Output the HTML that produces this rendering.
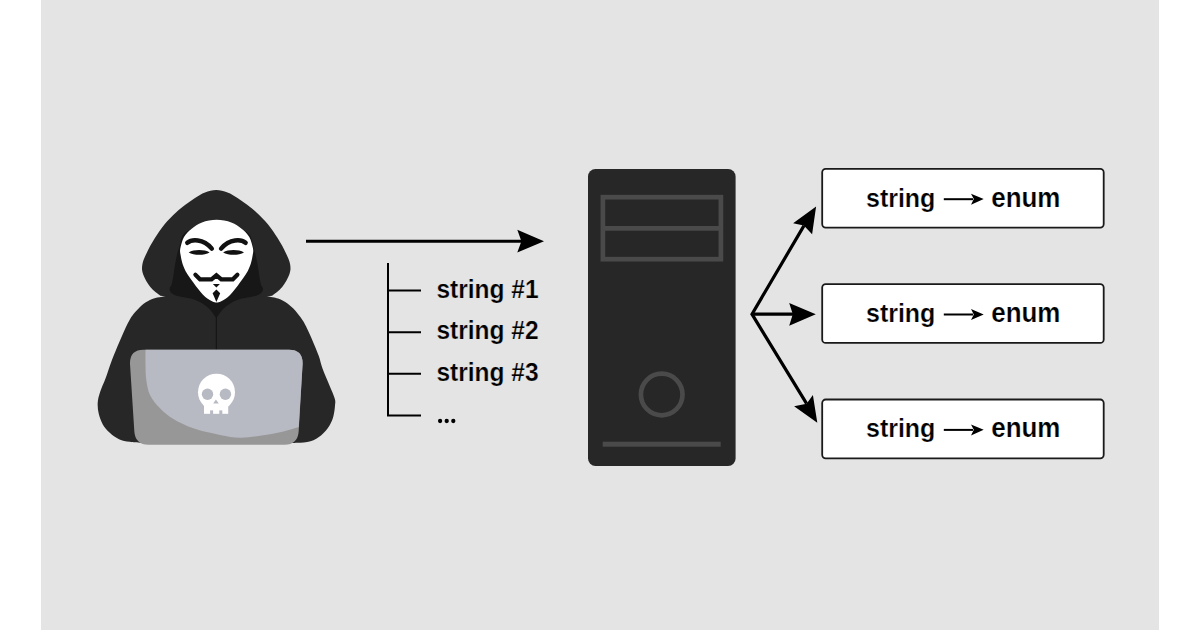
<!DOCTYPE html>
<html><head><meta charset="utf-8"><style>
html,body{margin:0;padding:0;background:#fff;width:1200px;height:630px;overflow:hidden}
#bg{position:absolute;left:41px;top:0;width:1118px;height:630px;background:#e4e4e4}
svg{position:absolute;left:0;top:0}
.t{font-family:"Liberation Sans",sans-serif;font-weight:bold;font-size:24.5px;fill:#000;stroke:#e4e4e4;stroke-width:0.22px}
.w{stroke:#fff}
</style></head><body>
<div id="bg"></div>
<svg width="1200" height="630" viewBox="0 0 1200 630">
<g id="hacker">
<path d="M161.1,297.0 C159.6,297.3 155.2,297.7 152.2,298.9 C149.2,300.1 146.1,301.9 143.3,304.0 C140.6,306.1 137.9,309.1 135.7,311.6 C133.5,314.1 131.7,316.4 130.0,319.2 C128.3,321.9 127.0,324.9 125.5,328.1 C124.0,331.3 122.5,334.9 121.0,338.3 C119.5,341.7 118.2,344.7 116.6,348.5 C115.0,352.3 113.3,356.2 111.5,361.2 C109.7,366.2 107.4,373.4 105.5,378.5 C103.6,383.6 101.4,387.9 100.1,392.0 C98.8,396.1 97.9,399.2 97.7,402.8 C97.5,406.4 97.9,410.0 98.7,413.6 C99.5,417.2 101.0,421.2 102.8,424.4 C104.6,427.5 106.8,430.0 109.5,432.5 C112.2,435.0 115.6,437.6 119.0,439.2 C122.4,440.8 125.8,441.2 129.8,441.8 C133.9,442.4 134.9,442.6 143.3,442.8 C151.7,443.0 167.9,443.1 180.0,443.2 C192.1,443.3 204.0,443.3 216.0,443.3 C228.0,443.3 240.3,443.2 252.0,443.2 C263.7,443.2 278.7,443.3 286.2,443.2 C293.7,443.1 292.9,443.1 297.0,442.8 C301.1,442.5 306.4,442.5 310.5,441.2 C314.6,439.9 318.2,437.8 321.3,435.2 C324.4,432.6 327.4,428.8 329.4,425.7 C331.4,422.6 332.5,419.7 333.4,416.3 C334.3,412.9 334.8,408.4 335.0,405.5 C335.2,402.6 335.7,402.1 334.8,398.7 C333.9,395.3 331.4,390.2 329.4,385.2 C327.4,380.2 324.4,373.6 322.6,368.8 C320.8,364.0 320.3,360.3 318.8,356.1 C317.3,351.9 315.4,347.4 313.7,343.4 C312.0,339.4 310.4,335.5 308.7,331.9 C307.0,328.3 305.5,325.0 303.6,321.8 C301.7,318.6 299.5,315.7 297.2,312.9 C294.9,310.1 292.4,307.4 289.6,305.2 C286.9,303.0 283.8,300.9 280.7,299.5 C277.6,298.1 272.8,297.4 271.2,297.0 L216.2,285 Z" fill="#272727"/>
<path d="M160.3,295.7 C158.6,294.3 153.2,290.7 150.3,287.1 C147.4,283.5 144.4,278.1 143.1,274.3 C141.8,270.5 141.8,267.9 142.4,264.3 C143.0,260.7 144.7,257.2 146.7,252.9 C148.7,248.6 151.6,243.4 154.6,238.6 C157.6,233.8 161.0,228.7 164.6,224.3 C168.2,220.0 172.6,215.7 176.0,212.5 C179.4,209.3 181.8,207.4 185.0,205.0 C188.2,202.6 191.7,200.1 195.0,198.0 C198.3,195.9 201.5,193.8 205.0,192.5 C208.5,191.2 212.4,190.0 216.2,190.0 C219.9,190.0 223.9,191.2 227.5,192.5 C231.1,193.8 234.2,195.9 237.5,198.0 C240.8,200.1 244.3,202.6 247.5,205.0 C250.7,207.4 253.1,209.3 256.5,212.5 C259.9,215.7 264.3,220.0 267.9,224.3 C271.5,228.7 274.9,233.8 277.9,238.6 C280.9,243.4 283.8,248.6 285.8,252.9 C287.8,257.2 289.5,260.7 290.1,264.3 C290.7,267.9 290.7,270.5 289.4,274.3 C288.1,278.1 285.1,283.5 282.2,287.1 C279.3,290.7 273.9,294.3 272.2,295.7 L216.2,302 Z" fill="#272727"/>
<path d="M216.3,317.3 C216.1,317.1 216.2,317.8 215.1,316.4 C214.0,315.0 211.7,311.2 209.5,309.0 C207.3,306.8 204.8,304.9 202.0,303.3 C199.2,301.7 196.6,300.3 192.7,299.1 C188.8,297.9 182.1,297.2 178.7,296.3 C175.2,295.4 173.5,294.7 172.0,293.5 C170.5,292.3 169.6,290.6 169.6,289.0 C169.6,287.4 171.2,286.2 171.8,284.0 C172.4,281.8 172.7,279.7 173.3,276.0 C173.9,272.3 174.6,266.7 175.5,262.0 C176.4,257.3 177.2,253.0 179.0,248.0 C180.8,243.0 179.8,236.0 186.0,232.0 C192.2,228.0 206.2,224.0 216.3,224.0 C226.4,224.0 240.4,228.0 246.6,232.0 C252.8,236.0 251.9,243.0 253.6,248.0 C255.4,253.0 256.2,257.3 257.1,262.0 C258.1,266.7 258.7,272.3 259.3,276.0 C259.9,279.7 260.2,281.8 260.8,284.0 C261.4,286.2 263.0,287.4 263.0,289.0 C263.0,290.6 262.1,292.3 260.6,293.5 C259.1,294.7 257.4,295.4 253.9,296.3 C250.5,297.2 243.8,297.9 239.9,299.1 C236.0,300.3 233.4,301.7 230.6,303.3 C227.8,304.9 225.3,306.8 223.1,309.0 C220.9,311.2 218.6,315.0 217.5,316.4 C216.4,317.8 216.5,317.1 216.3,317.3 Z" fill="#171717"/>
<line x1="216.3" y1="317" x2="216.3" y2="352" stroke="#141414" stroke-width="1.1"/>
<path d="M216.6,219.8 C211.7,219.8 206.2,220.9 202.0,222.4 C197.8,223.9 194.7,226.3 191.7,228.7 C188.7,231.1 185.9,233.7 184.0,237.0 C182.1,240.3 180.9,245.6 180.3,248.6 C179.7,251.6 180.3,252.6 180.6,255.0 C180.9,257.4 181.5,260.2 182.3,262.9 C183.1,265.5 184.3,268.5 185.5,270.9 C186.7,273.3 188.2,275.2 189.5,277.2 C190.8,279.2 192.1,280.8 193.5,282.8 C194.9,284.8 196.6,287.1 198.2,289.1 C199.8,291.1 201.4,293.1 203.0,294.7 C204.6,296.3 206.1,297.6 207.7,298.7 C209.3,299.8 211.0,300.8 212.5,301.4 C214.0,302.0 215.2,302.6 216.6,302.6 C218.0,302.6 219.3,302.0 220.8,301.4 C222.3,300.8 224.0,299.8 225.6,298.7 C227.2,297.6 228.7,296.3 230.3,294.7 C231.9,293.1 233.5,291.1 235.1,289.1 C236.7,287.1 238.4,284.8 239.8,282.8 C241.2,280.8 242.5,279.2 243.8,277.2 C245.1,275.2 246.6,273.3 247.8,270.9 C249.0,268.5 250.2,265.5 251.0,262.9 C251.8,260.2 252.4,257.4 252.7,255.0 C253.0,252.6 253.6,251.6 253.0,248.6 C252.4,245.6 251.2,240.3 249.3,237.0 C247.4,233.7 244.6,231.1 241.6,228.7 C238.6,226.3 235.5,223.9 231.3,222.4 C227.1,220.9 221.5,219.8 216.6,219.8Z" fill="#ffffff"/>
<!-- brows -->
<path d="M187.3,242.8 C191.5,239.3 203,238.3 211.8,248.6" fill="none" stroke="#111" stroke-width="4.5" stroke-linecap="round"/>
<path d="M245.6,242.8 C241.4,239.3 229.9,238.3 221.1,248.6" fill="none" stroke="#111" stroke-width="4.5" stroke-linecap="round"/>
<!-- eyes -->
<path d="M188.7,252.4 C193.9,249.2 204.4,249.2 209.6,252.4 C204.4,255.6 193.9,255.6 188.7,252.4Z" fill="#111"/>
<path d="M223.1,252.4 C228.3,249.2 238.8,249.2 244,252.4 C238.8,255.6 228.3,255.6 223.1,252.4Z" fill="#111"/>
<!-- mustache -->
<path d="M195.4,274.8 L200,279.3 L211.5,279.3 L216.4,275.3 L221.3,279.3 L232.8,279.3 L237.4,274.8" fill="none" stroke="#111" stroke-width="4.2" stroke-linecap="round" stroke-linejoin="miter"/>
<path d="M212.9,284.1 L219.9,284.1 L216.4,287.6Z" fill="#111"/>
<path d="M216.4,289.5 L220.2,293.3 L216.4,301.9 L212.6,293.3Z" fill="#111"/>
<!-- laptop -->
<path d="M143.6,349.8 L289,349.8 Q303,349.8 302.6,364 L298.7,431 Q297.9,444.8 284.5,444.8 L148.5,444.8 Q135.1,444.8 134.3,431 L130,364 Q129.6,349.8 143.6,349.8Z" fill="#979797"/>
<path d="M145.5,349.8 L289,349.8 Q303,349.8 302.6,364 L298.7,427  C295.6,427.9 286.4,430.9 280.0,432.3 C273.6,433.8 266.7,434.8 260.0,435.7 C253.3,436.6 246.7,437.8 240.0,437.7 C233.3,437.6 227.8,436.6 220.0,435.0 C212.2,433.4 201.1,431.0 193.3,428.3 C185.5,425.6 178.9,422.3 173.3,419.0 C167.8,415.7 163.9,412.3 160.0,408.3 C156.1,404.3 152.3,399.7 150.0,395.0 C147.7,390.3 147.1,385.0 146.3,380.0 C145.6,375.0 145.6,370.0 145.5,365.0 C145.4,360.0 145.5,352.3 145.5,349.8 Z" fill="#b8bac3"/>
<!-- skull -->
<g fill="#fff">
<circle cx="216.5" cy="392.2" r="18.5"/>
<rect x="204" y="398" width="24.2" height="15.8"/>
</g>
<g fill="#b8bac3">
<circle cx="207.5" cy="394.3" r="5.7"/>
<circle cx="225.4" cy="394.3" r="5.7"/>
<path d="M215.9,399.5 L218.8,403.4 L213.2,403.4Z"/>
<rect x="210.1" y="410.4" width="3" height="4"/>
<rect x="219.3" y="410.4" width="3" height="4"/>
</g>
</g>
<!-- main arrow -->
<line x1="306" y1="241.2" x2="525" y2="241.2" stroke="#000" stroke-width="3"/>
<path d="M544,241.3 L517.3,229.8 L521.4,241.3 L517.3,252.6Z" fill="#000"/>
<!-- list -->
<g stroke="#000" stroke-width="2" fill="none">
<path d="M388,263 L388,415.5 L421,415.5"/>
<line x1="388" y1="290.5" x2="421" y2="290.5"/>
<line x1="388" y1="332.2" x2="421" y2="332.2"/>
<line x1="388" y1="373.8" x2="421" y2="373.8"/>
</g>
<text class="t" transform="translate(436.5,297.5) scale(1,1.05)">string #1</text>
<text class="t" transform="translate(436.5,339.2) scale(1,1.05)">string #2</text>
<text class="t" transform="translate(436.5,380.8) scale(1,1.05)">string #3</text>
<g fill="#000"><circle cx="440.1" cy="421" r="2.15"/><circle cx="446.7" cy="421" r="2.15"/><circle cx="453.3" cy="421" r="2.15"/></g>
<!-- server -->
<rect x="588" y="169" width="147.6" height="297" rx="7.5" fill="#272727"/>
<g stroke="#4a4a4a" stroke-width="4.7" fill="none">
<rect x="602.9" y="197.2" width="118" height="62"/>
<line x1="602.9" y1="228.3" x2="720.9" y2="228.3"/>
<circle cx="661.7" cy="394.5" r="20.8"/>
</g>
<rect x="602.7" y="441.7" width="118" height="5" fill="#4a4a4a"/>
<!-- branch arrows -->
<g stroke="#000" stroke-width="3.2" fill="none" stroke-linejoin="miter">
<path d="M804,225.6 L752,314.2 L806.6,403.7"/>
<line x1="752" y1="314.2" x2="793" y2="314.2"/>
</g>
<path d="M816.1,206.5 L812.1,234.3 L803.8,225.6 L793.1,223.2Z" fill="#000"/>
<path d="M815.8,314.2 L789.2,303.1 L792.8,314.2 L789.2,325.7Z" fill="#000"/>
<path d="M817.3,422.7 L794.1,406.3 L806.6,403.7 L812.9,394.9Z" fill="#000"/>
<!-- boxes -->
<rect x="822.1999999999999" y="168.8" width="281.5" height="58.800000000000004" rx="3.5" fill="#fff" stroke="#1a1a1a" stroke-width="1.8"/>
<text class="t w" transform="translate(866,206.7) scale(1.02,1.07)">string</text>
<line x1="943.8" y1="199.20000000000002" x2="973" y2="199.20000000000002" stroke="#000" stroke-width="2"/>
<path d="M983.7,199.1 L971,193.8 L973.8,199.1 L971,204.8Z" fill="#000"/>
<text class="t w" transform="translate(991.2,206.7) scale(1.06,1.1)">enum</text>
<rect x="822.1999999999999" y="284.09999999999997" width="281.5" height="58.800000000000004" rx="3.5" fill="#fff" stroke="#1a1a1a" stroke-width="1.8"/>
<text class="t w" transform="translate(866,322.0) scale(1.02,1.07)">string</text>
<line x1="943.8" y1="314.5" x2="973" y2="314.5" stroke="#000" stroke-width="2"/>
<path d="M983.7,314.4 L971,309.09999999999997 L973.8,314.4 L971,320.09999999999997Z" fill="#000"/>
<text class="t w" transform="translate(991.2,322.0) scale(1.06,1.1)">enum</text>
<rect x="822.1999999999999" y="399.5" width="281.5" height="58.800000000000004" rx="3.5" fill="#fff" stroke="#1a1a1a" stroke-width="1.8"/>
<text class="t w" transform="translate(866,437.40000000000003) scale(1.02,1.07)">string</text>
<line x1="943.8" y1="429.90000000000003" x2="973" y2="429.90000000000003" stroke="#000" stroke-width="2"/>
<path d="M983.7,429.8 L971,424.5 L973.8,429.8 L971,435.5Z" fill="#000"/>
<text class="t w" transform="translate(991.2,437.40000000000003) scale(1.06,1.1)">enum</text>
</svg>
</body></html>
